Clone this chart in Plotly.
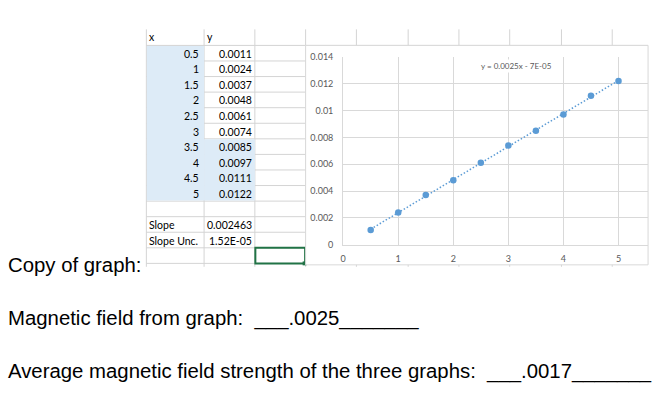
import numpy as np
import plotly.graph_objects as go

# ---------------- data ----------------
x_vals = [0.5, 1, 1.5, 2, 2.5, 3, 3.5, 4, 4.5, 5]
y_vals = [0.0011, 0.0024, 0.0037, 0.0048, 0.0061, 0.0074, 0.0085, 0.0097, 0.0111, 0.0122]
x_labels = ["0.5", "1", "1.5", "2", "2.5", "3", "3.5", "4", "4.5", "5"]
y_labels = ["0.0011", "0.0024", "0.0037", "0.0048", "0.0061", "0.0074", "0.0085", "0.0097", "0.0111", "0.0122"]
stat_names = ["Slope", "Slope Unc."]
stat_values = ["0.002463", "1.52E-05"]
y_ticks = [0, 0.002, 0.004, 0.006, 0.008, 0.01, 0.012, 0.014]
y_tick_text = ["0", "0.002", "0.004", "0.006", "0.008", "0.01", "0.012", "0.014"]
x_ticks = [0, 1, 2, 3, 4, 5]
x_tick_text = ["0", "1", "2", "3", "4", "5"]
trend_label = "y = 0.0025x - 7E-05"
page_lines = [
    "Copy of graph:",
    "Magnetic field from graph:  ___.0025_______",
    "Average magnetic field strength of the three graphs:  ___.0017_______",
]

W, H = 663, 409


def px(x):
    return x / W


def py(y):
    return 1 - y / H


GRID = "#D4D4D4"
BLUE_FILL = "#DDEBF7"
MARK = "#5B9BD5"
SHEET_FONT = "Lato"

shapes = []


def line(x0, y0, x1, y1, color=GRID, width=1):
    shapes.append(dict(type="line", xref="paper", yref="paper",
                       x0=px(x0), y0=py(y0), x1=px(x1), y1=py(y1),
                       line=dict(color=color, width=width), layer="below"))


def rect(x0, y0, x1, y1, fill=None, color=None, width=0):
    d = dict(type="rect", xref="paper", yref="paper",
             x0=px(x0), y0=py(y0), x1=px(x1), y1=py(y1), layer="below",
             line=dict(color=color if color else "rgba(0,0,0,0)", width=width))
    if fill:
        d["fillcolor"] = fill
    shapes.append(d)


# spreadsheet grid
col_edges = [144, 202, 253, 304, 355, 407, 458, 509, 561, 612]
row_top = 40.5
row_h = 16.0
row_edges = [row_top + row_h * k for k in range(15)]
for cx in col_edges:
    line(cx, 24, cx, 268)
for ry in row_edges:
    line(144, ry, 648, ry)

# blue filled cells
rect(144.5, row_edges[0] + 0.5, 202, row_edges[10] - 0.5, fill=BLUE_FILL)
rect(202, row_edges[6] + 0.5, 253, row_edges[10] - 0.5, fill=BLUE_FILL)

# selected cell
rect(253.5, row_edges[13], 303.5, row_edges[14], color="#217346", width=2)
rect(301, row_edges[14] - 2, 305, row_edges[14] + 2, fill="#217346")

# chart area
rect(304, 40.5, 648, 266, fill="white", color="#D9D9D9", width=1)

annotations = []


def txt(x, y, s, anchor="left", size=10.5, color="#000000", family=SHEET_FONT):
    annotations.append(dict(xref="paper", yref="paper", x=px(x), y=py(y), text=s,
                            showarrow=False, xanchor=anchor, yanchor="middle",
                            font=dict(family=family, size=size, color=color),
                            borderpad=0))


# headers
txt(146, 32, "x")
txt(204, 32, "y")
for i, (xl, yl) in enumerate(zip(x_labels, y_labels)):
    cy = row_edges[i] + row_h / 2 + 0.5
    txt(198, cy, xl, anchor="right")
    txt(251, cy, yl, anchor="right")
for j, (nm, vl) in enumerate(zip(stat_names, stat_values)):
    cy = row_edges[11 + j] + row_h / 2 + 0.5
    txt(146, cy, nm)
    txt(251, cy, vl, anchor="right")

# page text below
for s, cy in zip(page_lines, [266, 321, 375.5]):
    txt(4.5, cy, s, size=20.35, family="Liberation Sans, Arial")

# trendline from data
slope, intercept = np.polyfit(x_vals, y_vals, 1)
tx = np.array([min(x_vals), max(x_vals)])
ty = slope * tx + intercept

fig = go.Figure()
fig.add_trace(go.Scatter(x=tx, y=ty, mode="lines",
                         line=dict(color=MARK, width=1.5, dash="1.5px,2px"),
                         hoverinfo="skip", showlegend=False))
fig.add_trace(go.Scatter(x=x_vals, y=y_vals, mode="markers",
                         marker=dict(color=MARK, size=6.5),
                         showlegend=False))

annotations.append(dict(xref="x", yref="y", x=3.15, y=0.0133, text=trend_label,
                        showarrow=False, xanchor="center", yanchor="middle",
                        bgcolor="white", borderpad=1,
                        font=dict(family=SHEET_FONT, size=8, color="#595959")))

fig.update_layout(
    width=W, height=H,
    margin=dict(l=0, r=0, t=0, b=0),
    paper_bgcolor="white",
    plot_bgcolor="rgba(0,0,0,0)",
    shapes=shapes,
    annotations=annotations,
    showlegend=False,
    xaxis=dict(domain=[px(341.7), px(648)], range=[0, 5.537],
               tickvals=x_ticks, ticktext=x_tick_text,
               showgrid=True, gridcolor="#D9D9D9", gridwidth=1,
               zeroline=False, showline=True, linecolor="#D9D9D9", linewidth=1,
               ticks="", ticklabelstandoff=5,
               tickfont=dict(family=SHEET_FONT, size=9, color="#595959")),
    yaxis=dict(domain=[py(245.3), py(52.3)], range=[0, 0.014],
               tickvals=y_ticks, ticktext=y_tick_text,
               showgrid=True, gridcolor="#D9D9D9", gridwidth=1,
               zeroline=False, showline=True, linecolor="#D9D9D9", linewidth=1,
               ticks="", ticklabelstandoff=7,
               tickfont=dict(family=SHEET_FONT, size=9, color="#595959")),
)

fig.write_html("out.html", config={"displayModeBar": False},
               post_script="document.body.style.margin='0';document.body.style.padding='0';")
